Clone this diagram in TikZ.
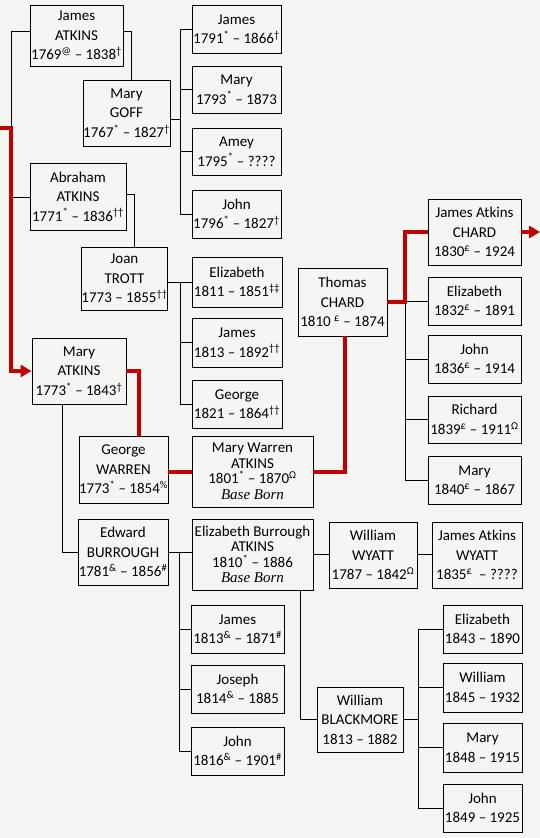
\documentclass[tikz,border=0pt]{standalone}
\usepackage{fontspec}
\setmainfont{Carlito}
\newfontfamily\bbfont{Liberation Serif}
\usetikzlibrary{arrows.meta}
\definecolor{bgc}{RGB}{245,245,243}
\definecolor{redl}{RGB}{192,0,0}
\newcommand\sps[1]{\textsuperscript{#1}}
\newcommand\bb{\bbfont\itshape Base Born}
\newcommand\pbox[7][]{\node[pbox,#1, minimum width={#5-#3}, minimum height={#6-#4}] (#2) at ({(#3+#5)/2},{(#4+#6)/2}) {#7};}
\begin{document}
\begin{tikzpicture}[x=1pt,y=-1pt,
  pbox/.style={draw=black, line width=0.9pt, fill=bgc, inner sep=0pt, align=center, font=\fontsize{15}{19.5}\selectfont},
  four/.style={font=\fontsize{15}{15.5}\selectfont},
  conn/.style={line width=0.9pt},
  rconn/.style={draw=redl, line width=4pt},
  rtip/.style={-{Triangle[length=11pt,width=12pt]}}]
\fill[bgc] (0,0) rectangle (540,838);
\useasboundingbox (0,0) rectangle (540,838);
\coordinate (rs) at (0,128);
\coordinate (re) at (540,232);
% boxes
\pbox{JA}{30}{5}{123}{66}{James\\ATKINS\\1769\sps{@} – 1838\sps{†}}
\pbox{MG}{83}{80}{170}{146}{Mary\\GOFF\\1767\sps{*} – 1827\sps{†}}
\pbox{c1}{192}{5}{281}{53}{James\\1791\sps{*} – 1866\sps{†}}
\pbox{c2}{192}{66}{281}{113}{Mary\\1793\sps{*} – 1873}
\pbox{c3}{192}{128}{281}{175}{Amey\\1795\sps{*} – ????}
\pbox{c4}{192}{190}{281}{238}{John\\1796\sps{*} – 1827\sps{†}}
\pbox{AA}{30}{163}{126}{230}{Abraham\\ATKINS\\1771\sps{*} – 1836\sps{††}}
\pbox{JT}{82}{247}{167}{310}{Joan\\TROTT\\1773 – 1855\sps{††}}
\pbox{d1}{192}{257}{282}{307}{Elizabeth\\1811 – 1851\sps{‡‡}}
\pbox{d2}{192}{318}{282}{367}{James\\1813 – 1892\sps{††}}
\pbox{d3}{192}{380}{282}{428}{George\\1821 – 1864\sps{††}}
\pbox{TC}{298}{268}{387}{336}{Thomas\\CHARD\\1810 \sps{£} – 1874}
\pbox{JAC}{428}{199}{521}{265}{James Atkins\\CHARD\\1830\sps{£} – 1924}
\pbox{e1}{428}{277}{521}{325}{Elizabeth\\1832\sps{£} – 1891}
\pbox{e2}{428}{335}{521}{383}{John\\1836\sps{£} – 1914}
\pbox{e3}{428}{396}{521}{443}{Richard\\1839\sps{£} – 1911\sps{Ω}}
\pbox{e4}{428}{456}{521}{504}{Mary\\1840\sps{£} – 1867}
\pbox{MA}{32}{338}{126}{404}{Mary\\ATKINS\\1773\sps{*} – 1843\sps{†}}
\pbox{GW}{79}{436}{168}{503}{George\\WARREN\\1773\sps{*} – 1854\sps{\%}}
\pbox[four]{MWA}{192}{436}{313}{507}{Mary Warren\\ATKINS\\1801\sps{*} – 1870\sps{Ω}\\\bb}
\pbox{EB}{78}{519}{168}{585}{Edward\\BURROUGH\\1781\sps{\&} – 1856\sps{\#}}
\pbox[four]{EBA}{192}{519}{313}{590}{Elizabeth Burrough\\ATKINS\\1810\sps{*} – 1886\\\bb}
\pbox{WW}{329}{522}{417}{588}{William\\WYATT\\1787 – 1842\sps{Ω}}
\pbox{JAW}{432}{522}{522}{588}{James Atkins\\WYATT\\1835\sps{£}\ \ – ????}
\pbox{f1}{191}{605}{284}{653}{James\\1813\sps{\&} – 1871\sps{\#}}
\pbox{f2}{191}{665}{284}{713}{Joseph\\1814\sps{\&} – 1885}
\pbox{f3}{191}{727}{284}{775}{John\\1816\sps{\&} – 1901\sps{\#}}
\pbox{WB}{317}{687}{403}{752}{William\\BLACKMORE\\1813 – 1882}
\pbox{g1}{443}{605}{522}{653}{Elizabeth\\1843 – 1890}
\pbox{g2}{443}{663}{522}{712}{William\\1845 – 1932}
\pbox{g3}{443}{723}{522}{772}{Mary\\1848 – 1915}
\pbox{g4}{443}{784}{522}{832}{John\\1849 – 1925}
% black connectors
\draw[conn] (JA.west |- 0,31) -- (11,31) -- (11,128);
\draw[conn] (AA.west |- 0,197) -- (11,197);
\draw[conn] (JA.east |- 0,31) -| (MG.north -| 131,0);
\draw[conn] (MG.east |- 0,119) -- (180,119);
\draw[conn] (c1.west) -- (c1.west -| 180,0) -- (c4.west -| 180,0) -- (c4.west);
\draw[conn] (c2.west) -- (c2.west -| 180,0);
\draw[conn] (c3.west) -- (c3.west -| 180,0);
\draw[conn] (AA.east |- 0,194) -| (JT.north -| 134,0);
\draw[conn] (JT.east |- d1.west) -- (d1.west);
\draw[conn] (d1.west -| 180,0) -- (d3.west -| 180,0) -- (d3.west);
\draw[conn] (d2.west) -- (d2.west -| 180,0);
\draw[conn] (405,302) -- (e4.west -| 405,0) -- (e4.west);
\draw[conn] (e1.west -| 405,0) -- (e1.west);
\draw[conn] (e2.west -| 405,0) -- (e2.west);
\draw[conn] (e3.west -| 405,0) -- (e3.west);
\draw[conn] (MA.south -| 62,0) |- (EB.west);
\draw[conn] (EB.east) -- (EBA.west |- EB.east);
\draw[conn] (179,552) -- (f3.west -| 179,0) -- (f3.west);
\draw[conn] (f1.west -| 179,0) -- (f1.west);
\draw[conn] (f2.west -| 179,0) -- (f2.west);
\draw[conn] (EBA.east |- 0,554) -- (WW.west |- 0,554);
\draw[conn] (WW.east |- 0,554) -- (JAW.west |- 0,554);
\draw[conn] (EBA.south -| 300,0) |- (WB.west);
\draw[conn] (WB.east) -- (WB.east -| 418,0);
\draw[conn] (g1.west) -- (g1.west -| 418,0) -- (g4.west -| 418,0) -- (g4.west);
\draw[conn] (g2.west -| 418,0) -- (g2.west);
\draw[conn] (g3.west -| 418,0) -- (g3.west);
% red line of descent
\draw[rconn,rtip] (rs) -- (11,128) -- (11,371) -- (MA.west);
\draw[rconn] (MA.east |- 0,371) -| (GW.north -| 139,0);
\draw[rconn] (GW.east |- MWA.west) -- (MWA.west);
\draw[rconn] (MWA.east) -| (TC.south -| 345,0);
\draw[rconn] (TC.east) -- (405,302) |- (JAC.west);
\draw[rconn,rtip] (JAC.east) -- (re);
\end{tikzpicture}
\end{document}
